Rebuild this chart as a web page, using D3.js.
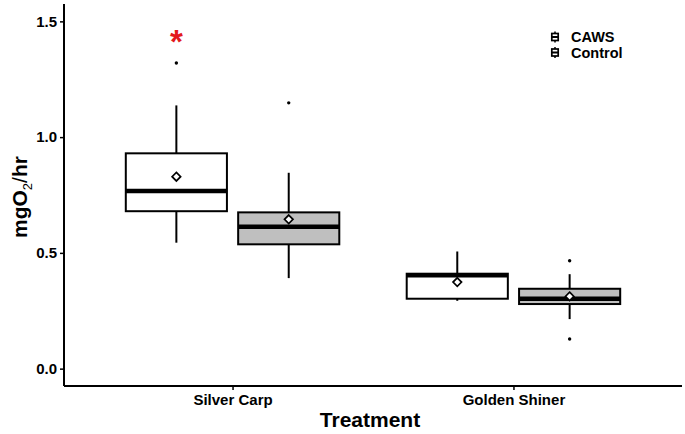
<!DOCTYPE html>
<html>
<head>
<meta charset="utf-8">
<script src="https://cdn.jsdelivr.net/npm/d3@7"></script>
<style>
  body { margin: 0; background: #fff; }
  text { font-family: "Liberation Sans", Arial, sans-serif; font-weight: bold; }
</style>
</head>
<body>
<svg id="chart" width="685" height="434"></svg>
<script>
// Data
var categories = ["Silver Carp", "Golden Shiner"];
var groups = ["CAWS", "Control"];
var groupFill = ["#ffffff", "#bfbfbf"];

// one entry per box: SC-CAWS, SC-Control, GS-CAWS, GS-Control
var boxCategory = ["Silver Carp", "Silver Carp", "Golden Shiner", "Golden Shiner"];
var boxGroup = ["CAWS", "Control", "CAWS", "Control"];
var lowerWhisker = [0.544, 0.391, 0.293, 0.214];
var q1 = [0.68, 0.537, 0.302, 0.279];
var medians = [0.767, 0.613, 0.403, 0.302];
var q3 = [0.93, 0.675, 0.41, 0.345];
var upperWhisker = [1.137, 0.846, 0.506, 0.408];
var means = [0.829, 0.645, 0.374, 0.312];
var outliers = [[1.32], [1.148], [], [0.466, 0.128]];

var yTicks = [0, 0.5, 1.0, 1.5];
var signifCategory = "Silver Carp";
var signifGroup = "CAWS";
var signifValue = 1.43;

var svg = d3.select("#chart");

// Panel edges
var panelLeft = 64, panelRight = 682, panelTop = 4, panelBottom = 386;

var y = d3.scaleLinear()
  .domain([0 - 1.5 * 0.05, 1.5 + 1.5 * 0.05])
  .range([panelBottom, panelTop]);

var x = d3.scalePoint()
  .domain(categories)
  .range([panelLeft, panelRight])
  .padding(0.6);

var step = x.step();

var dodge = d3.scaleBand()
  .domain(groups)
  .range([-0.4 * step, 0.4 * step])
  .paddingInner(0.1)
  .paddingOuter(0.05);

var boxes = d3.range(means.length).map(function(i) {
  return {
    cat: boxCategory[i], grp: boxGroup[i],
    lo: lowerWhisker[i], q1: q1[i], med: medians[i], q3: q3[i], hi: upperWhisker[i],
    mean: means[i], out: outliers[i]
  };
});

function cx(d) { return x(d.cat) + dodge(d.grp) + dodge.bandwidth() / 2; }

var g = svg.append("g");

var box = g.selectAll(".box")
  .data(boxes)
  .enter().append("g")
  .attr("class", "box");

// whiskers
box.append("line")
  .attr("x1", cx).attr("x2", cx)
  .attr("y1", function(d) { return y(d.hi); })
  .attr("y2", function(d) { return y(d.q3); })
  .attr("stroke", "#000").attr("stroke-width", 2);
box.append("line")
  .attr("x1", cx).attr("x2", cx)
  .attr("y1", function(d) { return y(d.q1); })
  .attr("y2", function(d) { return y(d.lo); })
  .attr("stroke", "#000").attr("stroke-width", 2);

// box
box.append("rect")
  .attr("x", function(d) { return x(d.cat) + dodge(d.grp); })
  .attr("width", dodge.bandwidth())
  .attr("y", function(d) { return y(d.q3); })
  .attr("height", function(d) { return y(d.q1) - y(d.q3); })
  .attr("fill", function(d) { return groupFill[groups.indexOf(d.grp)]; })
  .attr("stroke", "#000").attr("stroke-width", 2);

// median
box.append("line")
  .attr("x1", function(d) { return x(d.cat) + dodge(d.grp); })
  .attr("x2", function(d) { return x(d.cat) + dodge(d.grp) + dodge.bandwidth(); })
  .attr("y1", function(d) { return y(d.med); })
  .attr("y2", function(d) { return y(d.med); })
  .attr("stroke", "#000").attr("stroke-width", 4.5);

// outliers
box.selectAll(".out")
  .data(function(d) { return d.out.map(function(v) { return { d: d, v: v }; }); })
  .enter().append("circle")
  .attr("cx", function(o) { return cx(o.d); })
  .attr("cy", function(o) { return y(o.v); })
  .attr("r", 1.7)
  .attr("fill", "#000");

// mean diamond
box.append("path")
  .attr("d", d3.symbol().type(d3.symbolDiamond2).size(46))
  .attr("transform", function(d) { return "translate(" + cx(d) + "," + y(d.mean) + ")"; })
  .attr("fill", "#fff")
  .attr("stroke", "#000").attr("stroke-width", 1.7);

// significance star
g.append("text")
  .attr("x", x(signifCategory) + dodge(signifGroup) + dodge.bandwidth() / 2)
  .attr("y", y(signifValue))
  .attr("dy", "0.47em")
  .attr("text-anchor", "middle")
  .attr("fill", "#e31a1c")
  .style("font-size", "33px")
  .text("*");

// Axes
var yAxis = svg.append("g")
  .attr("transform", "translate(" + panelLeft + ",0)")
  .call(d3.axisLeft(y).tickValues(yTicks).tickFormat(d3.format(".1f")).tickSize(4).tickSizeOuter(0));
yAxis.select(".domain").attr("stroke-width", 2).attr("d", "M0," + panelTop + "V" + panelBottom);
yAxis.selectAll(".tick line").attr("stroke-width", 1.5);
yAxis.selectAll(".tick text")
  .attr("x", -7)
  .attr("fill", "#000")
  .style("font-size", "15px")
  .style("font-family", "'Liberation Sans', Arial, sans-serif")
  .style("font-weight", "bold");

var xAxis = svg.append("g")
  .attr("transform", "translate(0," + panelBottom + ")")
  .call(d3.axisBottom(x).tickSize(4).tickSizeOuter(0));
xAxis.select(".domain").attr("stroke-width", 2).attr("d", "M" + panelLeft + ",0H" + panelRight);
xAxis.selectAll(".tick line").attr("stroke-width", 1.5);
xAxis.selectAll(".tick text")
  .attr("y", 8)
  .attr("fill", "#000")
  .style("font-size", "15px")
  .style("font-family", "'Liberation Sans', Arial, sans-serif")
  .style("font-weight", "bold");

// Axis titles
svg.append("text")
  .attr("x", (panelLeft + panelRight) / 2 - 3)
  .attr("y", 427)
  .attr("text-anchor", "middle")
  .style("font-size", "21px")
  .text("Treatment");

var yt = svg.append("text")
  .attr("transform", "translate(27,197) rotate(-90)")
  .attr("text-anchor", "middle")
  .style("font-size", "21px");
yt.append("tspan").text("mgO");
yt.append("tspan").attr("dy", 5).style("font-size", "13px").style("font-weight", "normal").text("2");
yt.append("tspan").attr("dy", -5).style("font-weight", "normal").text("/");
yt.append("tspan").text("hr");

// Legend
var legend = svg.append("g").attr("transform", "translate(555,37)");
var key = legend.selectAll(".key")
  .data(groups)
  .enter().append("g")
  .attr("class", "key")
  .attr("transform", function(d, i) { return "translate(0," + i * 15.5 + ")"; });
key.append("line")
  .attr("y1", -5.5).attr("y2", 5.5)
  .attr("stroke", "#000").attr("stroke-width", 1.5);
key.append("rect")
  .attr("x", -3.2).attr("y", -3.5).attr("width", 6.4).attr("height", 7)
  .attr("fill", "#fff").attr("stroke", "#000").attr("stroke-width", 1.7);
key.append("line")
  .attr("x1", -3.2).attr("x2", 3.2)
  .attr("stroke", "#000").attr("stroke-width", 2);
key.append("text")
  .attr("x", 16)
  .attr("dy", "0.36em")
  .style("font-size", "14.5px")
  .text(function(d) { return d; });
</script>
</body>
</html>
